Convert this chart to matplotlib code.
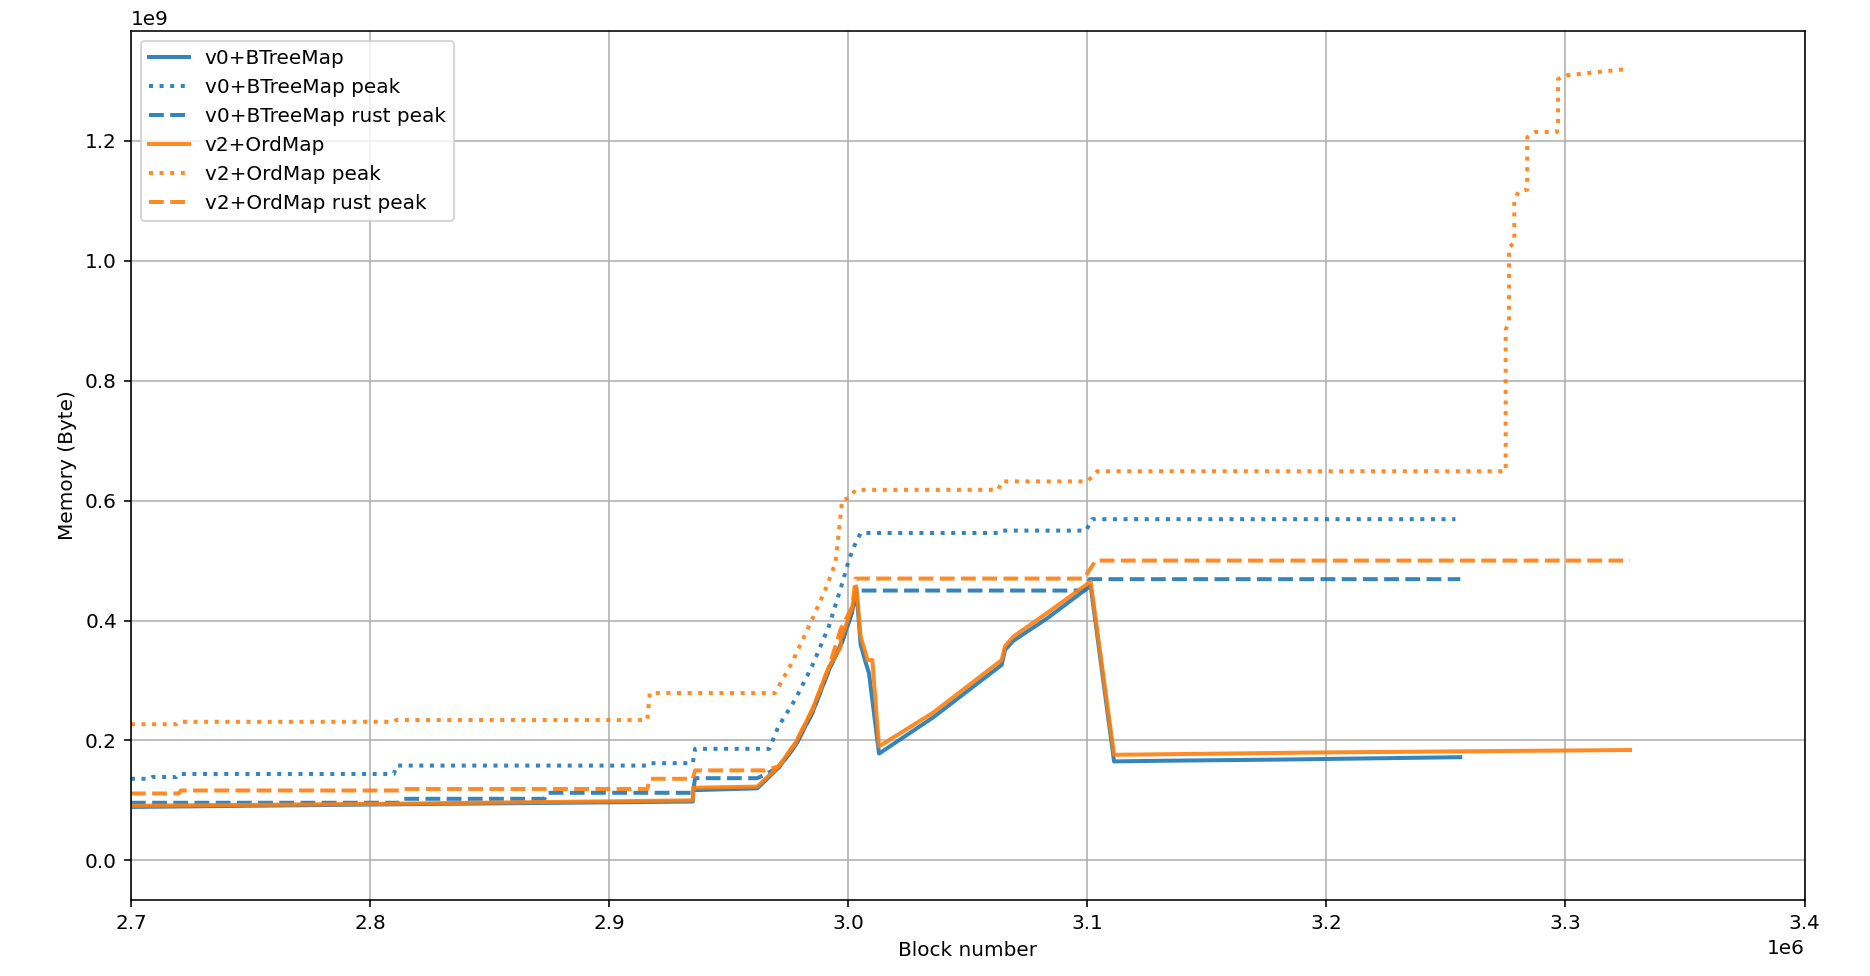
import numpy as np
import matplotlib
matplotlib.use('Agg')
import matplotlib.pyplot as plt

# block number in units of 1e6, memory in units of 1e9 bytes
v0_x = [2.700, 2.800, 2.935, 2.9352, 2.962, 2.971, 2.978, 2.985, 2.992, 2.9975,
        3.0017, 3.0034, 3.0052, 3.0073, 3.0087, 3.0129, 3.0354, 3.0642, 3.0656,
        3.069, 3.083, 3.1014, 3.1112, 3.130, 3.180, 3.256]
v0_y = [0.089, 0.093, 0.098, 0.117, 0.120, 0.155, 0.192, 0.246, 0.318, 0.365,
        0.415, 0.452, 0.360, 0.330, 0.312, 0.178, 0.238, 0.326, 0.351,
        0.366, 0.403, 0.458, 0.165, 0.166, 0.168, 0.172]

v0_peak_x = [2.700, 2.708, 2.709, 2.719, 2.720, 2.810, 2.811, 2.916, 2.917, 2.935,
             2.936, 2.967, 2.9708, 2.9778, 2.9848, 2.9919, 2.9975, 3.0003, 3.0024,
             3.0052, 3.0635, 3.0645, 3.0995, 3.102, 3.254]
v0_peak_y = [0.136, 0.136, 0.139, 0.139, 0.144, 0.144, 0.158, 0.158, 0.162, 0.162,
             0.186, 0.186, 0.223, 0.268, 0.323, 0.390, 0.462, 0.501, 0.523,
             0.546, 0.546, 0.550, 0.550, 0.569, 0.569]

v0_rust_x = [2.700, 2.812, 2.813, 2.873, 2.874, 2.935, 2.936, 2.962, 2.971, 2.978,
             2.985, 2.992, 2.9975, 3.0017, 3.0034, 3.099, 3.101, 3.256]
v0_rust_y = [0.096, 0.096, 0.1026, 0.1026, 0.1126, 0.1126, 0.137, 0.137, 0.155, 0.192,
             0.246, 0.318, 0.365, 0.415, 0.450, 0.450, 0.469, 0.469]

v2_x = [2.700, 2.800, 2.935, 2.9352, 2.962, 2.971, 2.978, 2.985, 2.992, 2.9968,
        2.997, 2.9975, 3.0017, 3.0034, 3.0052, 3.0073, 3.0080, 3.0101, 3.0129,
        3.0354, 3.0642, 3.0656, 3.069, 3.083, 3.1014, 3.1112, 3.200, 3.327]
v2_y = [0.091, 0.094, 0.100, 0.121, 0.123, 0.157, 0.196, 0.251, 0.323, 0.355,
        0.385, 0.373, 0.423, 0.457, 0.373, 0.346, 0.334, 0.334, 0.190,
        0.246, 0.334, 0.357, 0.373, 0.412, 0.465, 0.176, 0.180, 0.184]

v2_peak_x = [2.700, 2.719, 2.720, 2.810, 2.811, 2.916, 2.917, 2.9694, 2.9764, 2.9848,
             2.9904, 2.9947, 2.9975, 3.0003, 3.0031, 3.0628, 3.0642, 3.100, 3.1042,
             3.2750, 3.2750, 3.2764, 3.2764, 3.2786, 3.2786, 3.2803, 3.2840, 3.2840,
             3.2874, 3.2964, 3.2969, 3.2969, 3.2993, 3.3257]
v2_peak_y = [0.227, 0.227, 0.231, 0.231, 0.234, 0.234, 0.279, 0.279, 0.329, 0.401,
             0.451, 0.496, 0.601, 0.604, 0.618, 0.618, 0.632, 0.632, 0.649,
             0.649, 0.885, 0.899, 1.022, 1.031, 1.101, 1.115, 1.119, 1.206,
             1.215, 1.215, 1.232, 1.303, 1.309, 1.320]

v2_rust_x = [2.700, 2.720, 2.721, 2.812, 2.813, 2.916, 2.917, 2.935, 2.936, 2.9652,
             2.971, 2.978, 2.985, 2.992, 2.9968, 3.0017, 3.0031, 3.0986, 3.1035, 3.327]
v2_rust_y = [0.1115, 0.1115, 0.1165, 0.1165, 0.119, 0.119, 0.136, 0.136, 0.150, 0.150,
             0.157, 0.196, 0.251, 0.323, 0.385, 0.423, 0.470, 0.470, 0.500, 0.500]

series = [
    (v0_x, v0_y, 'C0', '-', 'v0+BTreeMap'),
    (v0_peak_x, v0_peak_y, 'C0', ':', 'v0+BTreeMap peak'),
    (v0_rust_x, v0_rust_y, 'C0', '--', 'v0+BTreeMap rust peak'),
    (v2_x, v2_y, 'C1', '-', 'v2+OrdMap'),
    (v2_peak_x, v2_peak_y, 'C1', ':', 'v2+OrdMap peak'),
    (v2_rust_x, v2_rust_y, 'C1', '--', 'v2+OrdMap rust peak'),
]

fig, ax = plt.subplots(figsize=(1870 / 144, 976 / 144), dpi=144)
fig.subplots_adjust(left=0.070, right=0.965, top=0.968, bottom=0.078)

for xs, ys, c, ls, lab in series:
    ax.plot(np.array(xs) * 1e6, np.array(ys) * 1e9, color=c, ls=ls, lw=2,
            alpha=0.9, label=lab)

ax.set_xlim(2.7e6, 3.4e6)
ax.set_ylim(-0.066e9, 1.383e9)
ax.set_xlabel('Block number')
ax.set_ylabel('Memory (Byte)')
ax.grid(True)
ax.legend(loc='upper left')

fig.savefig('out.png', dpi=144)
